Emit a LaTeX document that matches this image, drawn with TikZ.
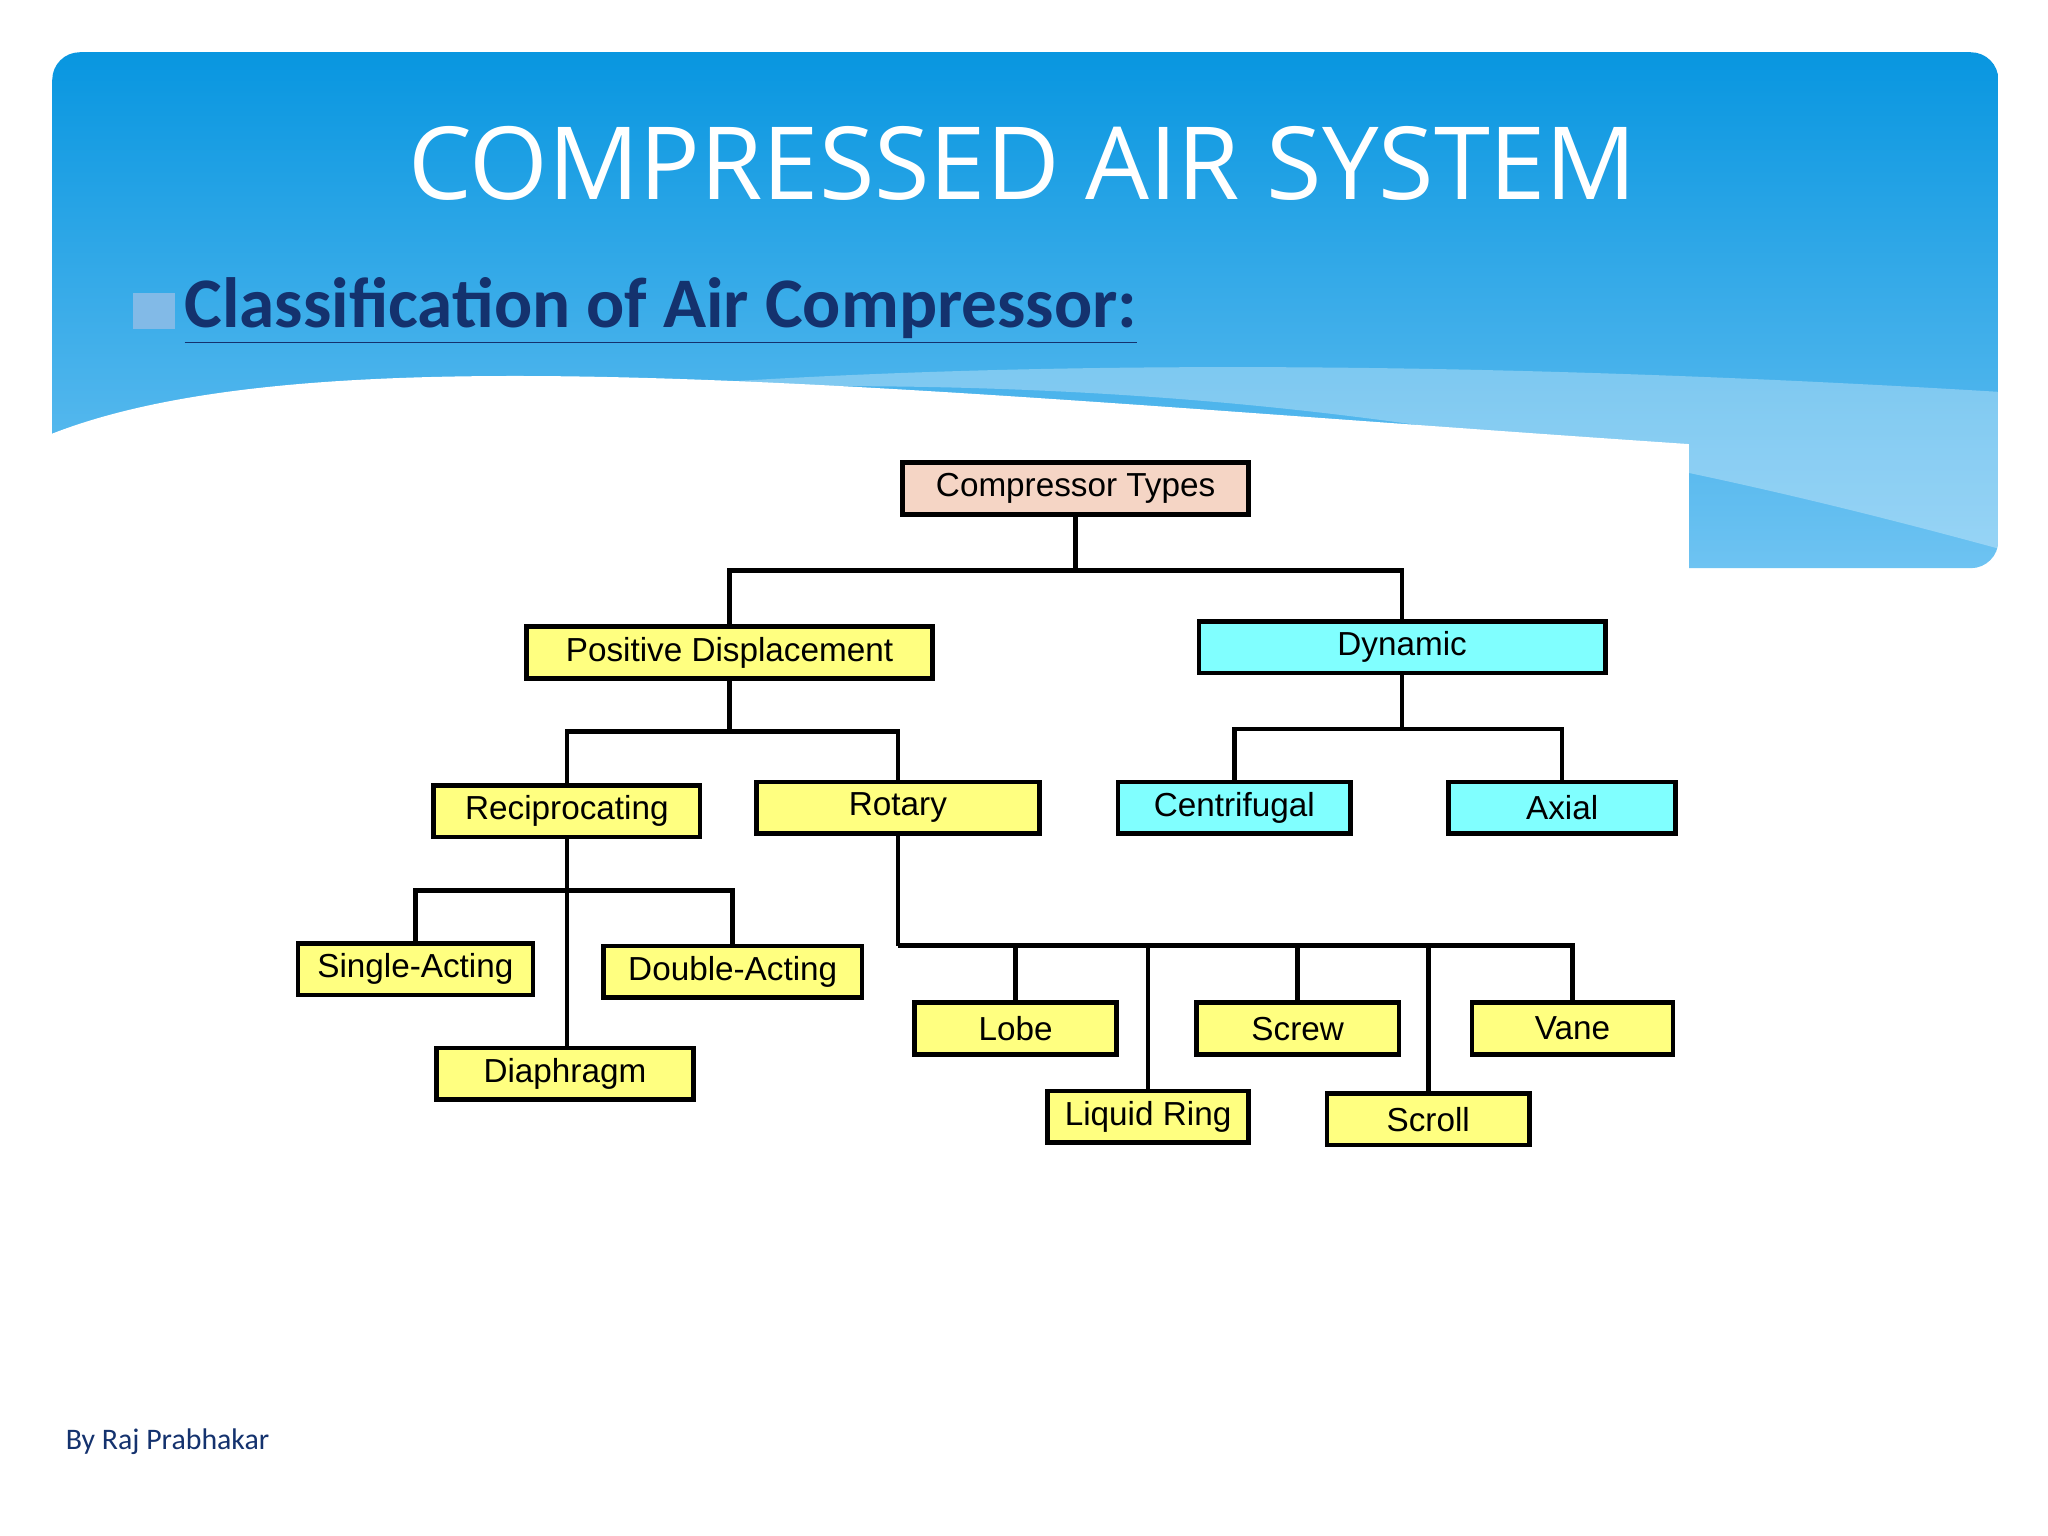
\documentclass[tikz,border=0pt]{standalone}
\usepackage{fontspec}
\setmainfont{Carlito}
\newfontfamily\boxfont{Liberation Sans}
\newfontfamily\titlefont{Open Sans}
\definecolor{cyanb}{RGB}{128,255,255}
\definecolor{yelb}{RGB}{255,255,128}
\begin{document}
\begin{tikzpicture}[x=0.02cm,y=-0.02cm,
 bx/.style={draw=black,line width=2pt,inner sep=0pt,font=\boxfont\fontsize{14.5}{17}\selectfont,minimum height=0.79cm},
 yb/.style={bx,fill=yelb},
 cb/.style={bx,fill=cyanb},
 ln/.style={line width=2pt}]
\useasboundingbox (0,0) rectangle (1568,1176);
\fill[white] (0,0) rectangle (1568,1176);
\shade[top color={rgb,255:red,8;green,150;blue,224},bottom color={rgb,255:red,110;green,195;blue,242},rounded corners=12pt] (40,40) rectangle (1530,435);
\fill[white,opacity=0.3] (450,300) .. controls (900,280) and (1200,330) .. (1530,420) -- (1530,300) .. controls (1200,280) and (800,270) .. (450,300);
\fill[white] (40,332) .. controls (250,250) and (700,300) .. (1293,340) -- (1293,436) -- (1540,436) -- (1540,1176) -- (30,1176) -- cycle;
\node[text=white,font=\titlefont\fontsize{44}{52}\selectfont] (title) at (783,125) {COMPRESSED AIR SYSTEM};
\fill[cyan!70!blue!50] (102,224) rectangle (134,252);
\node[anchor=west,inner sep=0pt,text={rgb,255:red,20;green,50;blue,110},font=\bfseries\fontsize{31}{36}\selectfont] (sub) at (141,238) {\underline{Classification of Air Compressor:}};
\node[anchor=west,inner sep=0pt,text={rgb,255:red,20;green,50;blue,110},font=\fontsize{13}{15}\selectfont] (by) at (50,1104) {By Raj Prabhakar};

\node[bx,fill={rgb,255:red,245;green,213;blue,197},minimum width=5.3cm] (ct) at (823.5,374) {Compressor Types};
\node[yb,minimum width=6.22cm] (pd) at (558.5,499.5) {Positive Displacement};
\node[cb,minimum width=6.22cm] (dyn) at (1073.5,495.5) {Dynamic};
\node[yb,minimum width=4.08cm] (rec) at (434,621) {Reciprocating};
\node[yb,minimum width=4.34cm] (rot) at (687.5,618.5) {Rotary};
\node[cb,minimum width=3.56cm] (cen) at (945,618.5) {Centrifugal};
\node[cb,minimum width=3.48cm] (ax) at (1196,618.5) {Axial};
\node[yb,minimum width=3.6cm] (sa) at (318,742) {Single-Acting};
\node[yb,minimum width=3.96cm] (da) at (561,744) {Double-Acting};
\node[yb,minimum width=3.94cm] (dia) at (432.5,822) {Diaphragm};
\node[yb,minimum width=3.1cm] (lobe) at (777.5,787.5) {Lobe};
\node[yb,minimum width=3.1cm] (scr) at (993.5,787.5) {Screw};
\node[yb,minimum width=3.08cm] (vane) at (1204,787.5) {Vane};
\node[yb,minimum width=3.08cm] (lr) at (879,855) {Liquid Ring};
\node[yb,minimum width=3.1cm] (scl) at (1093.5,857) {Scroll};

\coordinate (j1) at (823.5,437);
\coordinate (j2) at (558.5,560);
\coordinate (j3) at (1073.5,558);
\coordinate (j4) at (434,682);
\coordinate (j5) at (687.5,724);
\draw[ln] (ct.south) -- (j1);
\draw[ln] (pd.north) |- (j1) -| (dyn.north);
\draw[ln] (pd.south) -- (j2);
\draw[ln] (rec.north) |- (j2) -| (rot.north);
\draw[ln] (dyn.south) -- (j3);
\draw[ln] (cen.north) |- (j3) -| (ax.north);
\draw[ln] (rec.south) -- (dia.north -| rec.south);
\draw[ln] (sa.north) |- (j4) -| (da.north);
\draw[ln] (rot.south) -- (j5);
\draw[ln] (j5) -| (vane.north);
\draw[ln] (j5) -| (lobe.north);
\draw[ln] (j5) -| (lr.north);
\draw[ln] (j5) -| (scr.north);
\draw[ln] (j5) -| (scl.north);
\end{tikzpicture}
\end{document}
